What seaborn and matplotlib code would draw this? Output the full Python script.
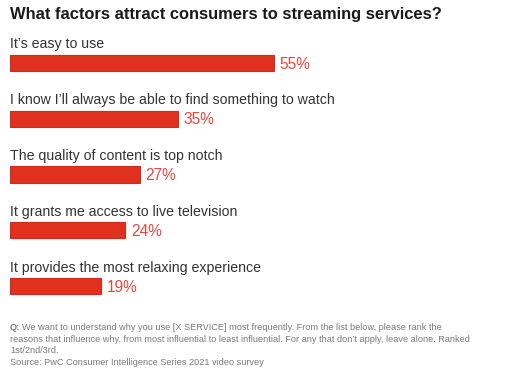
import pandas as pd
import matplotlib.pyplot as plt
import seaborn as sns

# chart data
factors = [
    "It\u2019s easy to use",
    "I know I\u2019ll always be able to find something to watch",
    "The quality of content is top notch",
    "It grants me access to live television",
    "It provides the most relaxing experience",
]
shares = [55, 35, 27, 24, 19]

title = "What factors attract consumers to streaming services?"
note_q = "Q:"
note_line1 = "We want to understand why you use [X SERVICE] most frequently. From the list below, please rank the"
note_rest = ("reasons that influence why, from most influential to least influential. For any that don\u2019t apply, leave alone. Ranked\n"
             "1st/2nd/3rd.\n"
             "Source: PwC Consumer Intelligence Series 2021 video survey")

sns.set_theme(style="white")
plt.rcParams['font.family'] = ['Liberation Sans', 'DejaVu Sans']

RED = "#e0301e"
LABEL_RED = "#e8473d"
TEXT = "#333333"
GREY = "#7a7a7a"

df = pd.DataFrame({"factor": factors, "share": shares})

fig = plt.figure(figsize=(5.12, 3.88), dpi=100)
W, H = 512, 388
ax = fig.add_axes([10 / W, (388 - 314) / H, 480 / W, 279 / H])

sns.barplot(data=df, x="share", y="factor", orient="h", color=RED,
            saturation=1, width=0.29, edgecolor="#d42a1a", linewidth=0.8, ax=ax)

ax.set_xlim(0, 100)
ax.set_ylim(4.5, -0.5)
ax.axis("off")

for i, (f, v) in enumerate(zip(factors, shares)):
    ax.text(0, i - 0.33, f, ha="left", va="center", fontsize=10.2, color=TEXT)
    ax.text(v + 1.2, i + 0.02, f"{v}%", ha="left", va="center", fontsize=11.2, color=LABEL_RED)

fig.text(10 / W, 1 - 15 / H, title, ha="left", va="center", fontsize=11.9,
         fontweight="bold", color="#1a1a1a")

fig.text(10 / W, 1 - 328 / H, note_q, ha="left", va="center", fontsize=6.6,
             fontweight="bold", color=GREY)
fig.text(21.5 / W, 1 - 328 / H, note_line1, ha="left", va="center", fontsize=6.6, color=GREY)
fig.text(10 / W, 1 - 335 / H, note_rest, ha="left", va="top", fontsize=6.6,
         color=GREY, linespacing=1.35)

fig.savefig("out.png", dpi=100, facecolor="white")
